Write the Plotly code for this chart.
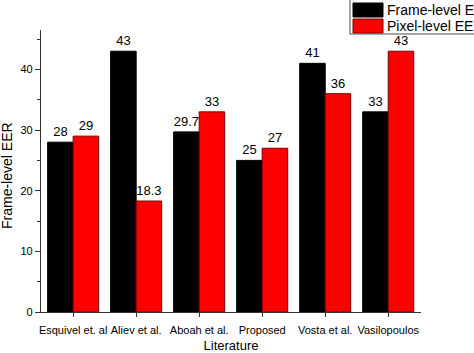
import plotly.graph_objects as go

categories = ["Esquivel et. al", "Aliev et al.", "Aboah et al.", "Proposed", "Vosta et al.", "Vasilopoulos"]
frame_eer = [28, 43, 29.7, 25, 41, 33]
pixel_eer = [29, 18.3, 33, 27, 36, 43]
frame_labels = ["28", "43", "29.7", "25", "41", "33"]
pixel_labels = ["29", "18.3", "33", "27", "36", "43"]

FONT = "Arial, Liberation Sans, sans-serif"
W, H = 474, 353
L, R, T, B = 41, 53, 30, 41
PW, PH = W - L - R, H - T - B

def px(x):
    return (x - L) / PW

def py(y):
    return (H - B - y) / PH

fig = go.Figure()
fig.add_trace(go.Bar(
    x=categories, y=frame_eer, name="Frame-level EER",
    marker=dict(color="#000000", line=dict(color="#000000", width=1)),
    text=frame_labels, textposition="outside", constraintext="none",
    textfont=dict(size=13, color="#000000", family=FONT), cliponaxis=False,
))
fig.add_trace(go.Bar(
    x=categories, y=pixel_eer, name="Pixel-level EER",
    marker=dict(color="#ff0000", line=dict(color="#7a0000", width=1)),
    text=pixel_labels, textposition="outside", constraintext="none",
    textfont=dict(size=13, color="#000000", family=FONT), cliponaxis=False,
))

fig.update_layout(
    width=W, height=H,
    margin=dict(l=L, r=R, t=T, b=B, pad=0, autoexpand=False),
    paper_bgcolor="white", plot_bgcolor="white",
    barmode="group", bargap=0.19, bargroupgap=0,
    showlegend=False,
    font=dict(family=FONT, color="#000000", size=11),
    xaxis=dict(
        range=[-0.51, 5.52], showline=True, linecolor="#333333", linewidth=1.3,
        ticks="outside", ticklen=4, tickcolor="#333333", tickwidth=1.2,
        tickfont=dict(size=11, color="#000000"), ticklabelstandoff=4,
        title=dict(text="Literature", font=dict(size=13, color="#000000"), standoff=10),
        showgrid=False, zeroline=False, automargin=False,
    ),
    yaxis=dict(
        range=[0, 46.5], dtick=10, showline=True, linecolor="#333333", linewidth=1.3,
        ticks="outside", ticklen=5, tickcolor="#333333", tickwidth=1.2,
        tickfont=dict(size=11, color="#000000"),
        minor=dict(dtick=5, ticks="outside", ticklen=3, tickcolor="#333333", showgrid=False),
        showgrid=False, zeroline=False, automargin=False,
    ),
)

# y-axis title
fig.add_annotation(
    text="Frame-level EER", xref="paper", yref="paper",
    x=px(7), y=py(176), textangle=-90, showarrow=False,
    font=dict(size=14, color="#000000", family=FONT),
    xanchor="center", yanchor="middle",
)

# Legend box (top right, partially outside the view)
fig.add_shape(type="rect", xref="paper", yref="paper",
              x0=px(350), x1=px(480), y0=py(34), y1=py(-2),
              line=dict(color="#888888", width=1.5), fillcolor="white", layer="above")
fig.add_shape(type="rect", xref="paper", yref="paper",
              x0=px(353), x1=px(383), y0=py(17), y1=py(3),
              line=dict(color="#000000", width=1), fillcolor="#000000", layer="above")
fig.add_shape(type="rect", xref="paper", yref="paper",
              x0=px(353), x1=px(383), y0=py(33), y1=py(19),
              line=dict(color="#7a0000", width=1), fillcolor="#ff0000", layer="above")
fig.add_annotation(text="Frame-level EER", xref="paper", yref="paper",
                   x=px(385), y=py(10), xanchor="left", yanchor="middle", showarrow=False,
                   font=dict(size=14, color="#000000", family=FONT))
fig.add_annotation(text="Pixel-level EER", xref="paper", yref="paper",
                   x=px(385), y=py(26), xanchor="left", yanchor="middle", showarrow=False,
                   font=dict(size=14, color="#000000", family=FONT))

fig.write_html("out.html")
